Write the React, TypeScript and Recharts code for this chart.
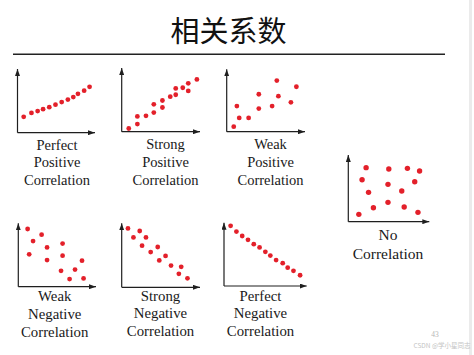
import React from 'react';
import { ScatterChart, Scatter, XAxis, YAxis } from 'recharts';

const W = 474;
const H = 355;

// ---------- data (values on a 0–100 scale for each small panel) ----------
const perfectPositive = [
  { x: 8, y: 25 }, { x: 18, y: 31 }, { x: 26, y: 34 }, { x: 33, y: 37 },
  { x: 41, y: 40 }, { x: 49, y: 44 }, { x: 57, y: 48 }, { x: 65, y: 52 },
  { x: 72, y: 56 }, { x: 78, y: 61 }, { x: 86, y: 66 }, { x: 93, y: 72 },
];
const strongPositive = [
  { x: 9, y: 5 }, { x: 20, y: 12 }, { x: 20, y: 24 }, { x: 31, y: 25 },
  { x: 41, y: 30 }, { x: 41, y: 43 }, { x: 52, y: 38 }, { x: 52, y: 49 },
  { x: 62, y: 55 }, { x: 69, y: 58 }, { x: 69, y: 68 }, { x: 78, y: 69 },
  { x: 85, y: 64 }, { x: 85, y: 76 }, { x: 96, y: 82 },
];
const weakPositive = [
  { x: 9, y: 8 }, { x: 16, y: 22 }, { x: 13, y: 41 }, { x: 28, y: 22 },
  { x: 41, y: 60 }, { x: 41, y: 37 }, { x: 58, y: 41 }, { x: 64, y: 82 },
  { x: 66, y: 57 }, { x: 82, y: 47 }, { x: 89, y: 72 },
];
const weakNegative = [
  { x: 12, y: 91 }, { x: 19, y: 72 }, { x: 30, y: 82 }, { x: 14, y: 51 },
  { x: 37, y: 62 }, { x: 37, y: 42 }, { x: 57, y: 68 }, { x: 57, y: 49 },
  { x: 55, y: 25 }, { x: 66, y: 12 }, { x: 73, y: 27 }, { x: 82, y: 41 },
  { x: 84, y: 13 },
];
const strongNegative = [
  { x: 8, y: 92 }, { x: 15, y: 78 }, { x: 23, y: 88 }, { x: 31, y: 78 },
  { x: 26, y: 65 }, { x: 37, y: 55 }, { x: 46, y: 63 }, { x: 48, y: 42 },
  { x: 56, y: 49 }, { x: 63, y: 34 }, { x: 76, y: 32 }, { x: 73, y: 21 },
  { x: 84, y: 14 },
];
const perfectNegative = [
  { x: 8, y: 95 }, { x: 15, y: 86 }, { x: 22, y: 79 }, { x: 29, y: 73 },
  { x: 36, y: 66 }, { x: 43, y: 61 }, { x: 50, y: 54 }, { x: 56, y: 48 },
  { x: 63, y: 41 }, { x: 71, y: 36 }, { x: 77, y: 29 }, { x: 84, y: 24 },
  { x: 92, y: 17 },
];
const noCorrelation = [
  { x: 22, y: 81 }, { x: 50, y: 79 }, { x: 73, y: 80 }, { x: 88, y: 76 },
  { x: 17, y: 63 }, { x: 49, y: 56 }, { x: 82, y: 60 }, { x: 25, y: 44 },
  { x: 66, y: 46 }, { x: 31, y: 21 }, { x: 49, y: 29 }, { x: 69, y: 22 },
  { x: 13, y: 11 }, { x: 86, y: 14 },
];

const perfectPositiveLabel = ['Perfect', 'Positive', 'Correlation'];
const strongPositiveLabel = ['Strong', 'Positive', 'Correlation'];
const weakPositiveLabel = ['Weak', 'Positive', 'Correlation'];
const weakNegativeLabel = ['Weak', 'Negative', 'Correlation'];
const strongNegativeLabel = ['Strong', 'Negative', 'Correlation'];
const perfectNegativeLabel = ['Perfect', 'Negative', 'Correlation'];
const noCorrelationLabel = ['No', 'Correlation'];

const titleText = '相关系数';
const pageNumber = '43';
const watermark = 'CSDN @学小星同志';

const DOT = '#e3202a';
const AXIS = '#1f1f1f';
const TEXT = '#1a1a1a';

type PanelProps = {
  data: { x: number; y: number }[];
  box: [number, number, number, number]; // left, top, right, bottom of plot box
  lines: string[];
  cx: number;
  y0: number;
  gap: number;
  fontSize: number;
  r: number;
};

function Panel({ data, box, lines, cx, y0, gap, fontSize, r }: PanelProps) {
  const [L, T, R, B] = box;
  const renderLabel = () => (
    <text
      x={cx}
      y={y0}
      textAnchor="middle"
      fontFamily="'Liberation Serif', 'Times New Roman', serif"
      fontSize={fontSize}
      fill={TEXT}
    >
      {lines.map((t, i) => (
        <tspan key={i} x={cx} dy={i === 0 ? 0 : gap}>
          {t}
        </tspan>
      ))}
    </text>
  );
  const dot = (p: any) => {
    const px = p.cx != null ? p.cx : p.x + (p.width || 0) / 2;
    const py = p.cy != null ? p.cy : p.y + (p.height || 0) / 2;
    return <circle cx={px} cy={py} r={r} fill={DOT} />;
  };
  return (
    <div style={{ position: 'absolute', left: 0, top: 0, width: W, height: H }}>
      <ScatterChart
        width={W}
        height={H}
        margin={{ left: L - 1, top: T, right: W - R, bottom: H - B - 1 }}
      >
        <XAxis
          type="number"
          dataKey="x"
          domain={[0, 100]}
          height={1}
          tick={false}
          tickLine={false}
          axisLine={{ stroke: AXIS, strokeWidth: 1.2, markerEnd: 'url(#arrowHead)' }}
          label={renderLabel}
        />
        <YAxis
          type="number"
          dataKey="y"
          domain={[0, 100]}
          width={1}
          tick={false}
          tickLine={false}
          axisLine={{ stroke: AXIS, strokeWidth: 1.2, markerStart: 'url(#arrowHead)' }}
        />
        <Scatter data={data} fill={DOT} shape={dot} isAnimationActive={false} />
      </ScatterChart>
    </div>
  );
}

export default function App() {
  return (
    <div
      style={{
        position: 'absolute',
        left: 0,
        top: 0,
        width: W,
        height: H,
        background: '#ffffff',
        overflow: 'hidden',
      }}
    >
      <svg width={W} height={H} style={{ position: 'absolute', left: 0, top: 0 }}>
        <defs>
          <marker
            id="arrowHead"
            viewBox="0 0 10 10"
            refX="10"
            refY="5"
            markerWidth="7"
            markerHeight="5"
            markerUnits="userSpaceOnUse"
            orient="auto-start-reverse"
            preserveAspectRatio="none"
          >
            <path d="M0,0 L10,5 L0,10 z" fill={AXIS} />
          </marker>
        </defs>
        <text
          x={228.5}
          y={41.5}
          textAnchor="middle"
          fontFamily="'Noto Sans CJK SC', sans-serif"
          fontSize={29}
          fill="#111"
        >
          {titleText}
        </text>
        <line x1={13} x2={445} y1={54.3} y2={54.3} stroke="#222" strokeWidth={1.5} />
        <rect x={469} y={0} width={3} height={H} fill="#ebebeb" />
        <text
          x={435}
          y={337}
          textAnchor="middle"
          fontFamily="'Liberation Serif', serif"
          fontSize={7.5}
          fill="#b5b5b5"
        >
          {pageNumber}
        </text>
        <text
          x={442}
          y={348}
          textAnchor="middle"
          fontFamily="'Noto Sans CJK SC', sans-serif"
          fontSize={6.5}
          fill="#c4c4c4"
        >
          {watermark}
        </text>
      </svg>

      <Panel data={perfectPositive} box={[17.5, 69, 95, 132.7]} lines={perfectPositiveLabel} cx={57} y0={149.5} gap={17.6} fontSize={14.5} r={2.4} />
      <Panel data={strongPositive} box={[121.7, 68, 200, 131.7]} lines={strongPositiveLabel} cx={165.5} y0={149.3} gap={17.6} fontSize={14.5} r={2.4} />
      <Panel data={weakPositive} box={[226.7, 69.3, 305, 131.7]} lines={weakPositiveLabel} cx={270.5} y0={149.3} gap={17.6} fontSize={14.5} r={2.4} />
      <Panel data={weakNegative} box={[18.3, 223.3, 96, 286.7]} lines={weakNegativeLabel} cx={54.7} y0={301.3} gap={17.7} fontSize={14.8} r={2.4} />
      <Panel data={strongNegative} box={[121.7, 223.3, 200, 287.3]} lines={strongNegativeLabel} cx={160.5} y0={300.7} gap={17.7} fontSize={14.8} r={2.4} />
      <Panel data={perfectNegative} box={[224, 222.7, 306.7, 286]} lines={perfectNegativeLabel} cx={260.5} y0={300.7} gap={17.7} fontSize={14.8} r={2.4} />
      <Panel data={noCorrelation} box={[348.3, 155, 429.3, 221.7]} lines={noCorrelationLabel} cx={388} y0={239.7} gap={19} fontSize={15.5} r={2.7} />
    </div>
  );
}
